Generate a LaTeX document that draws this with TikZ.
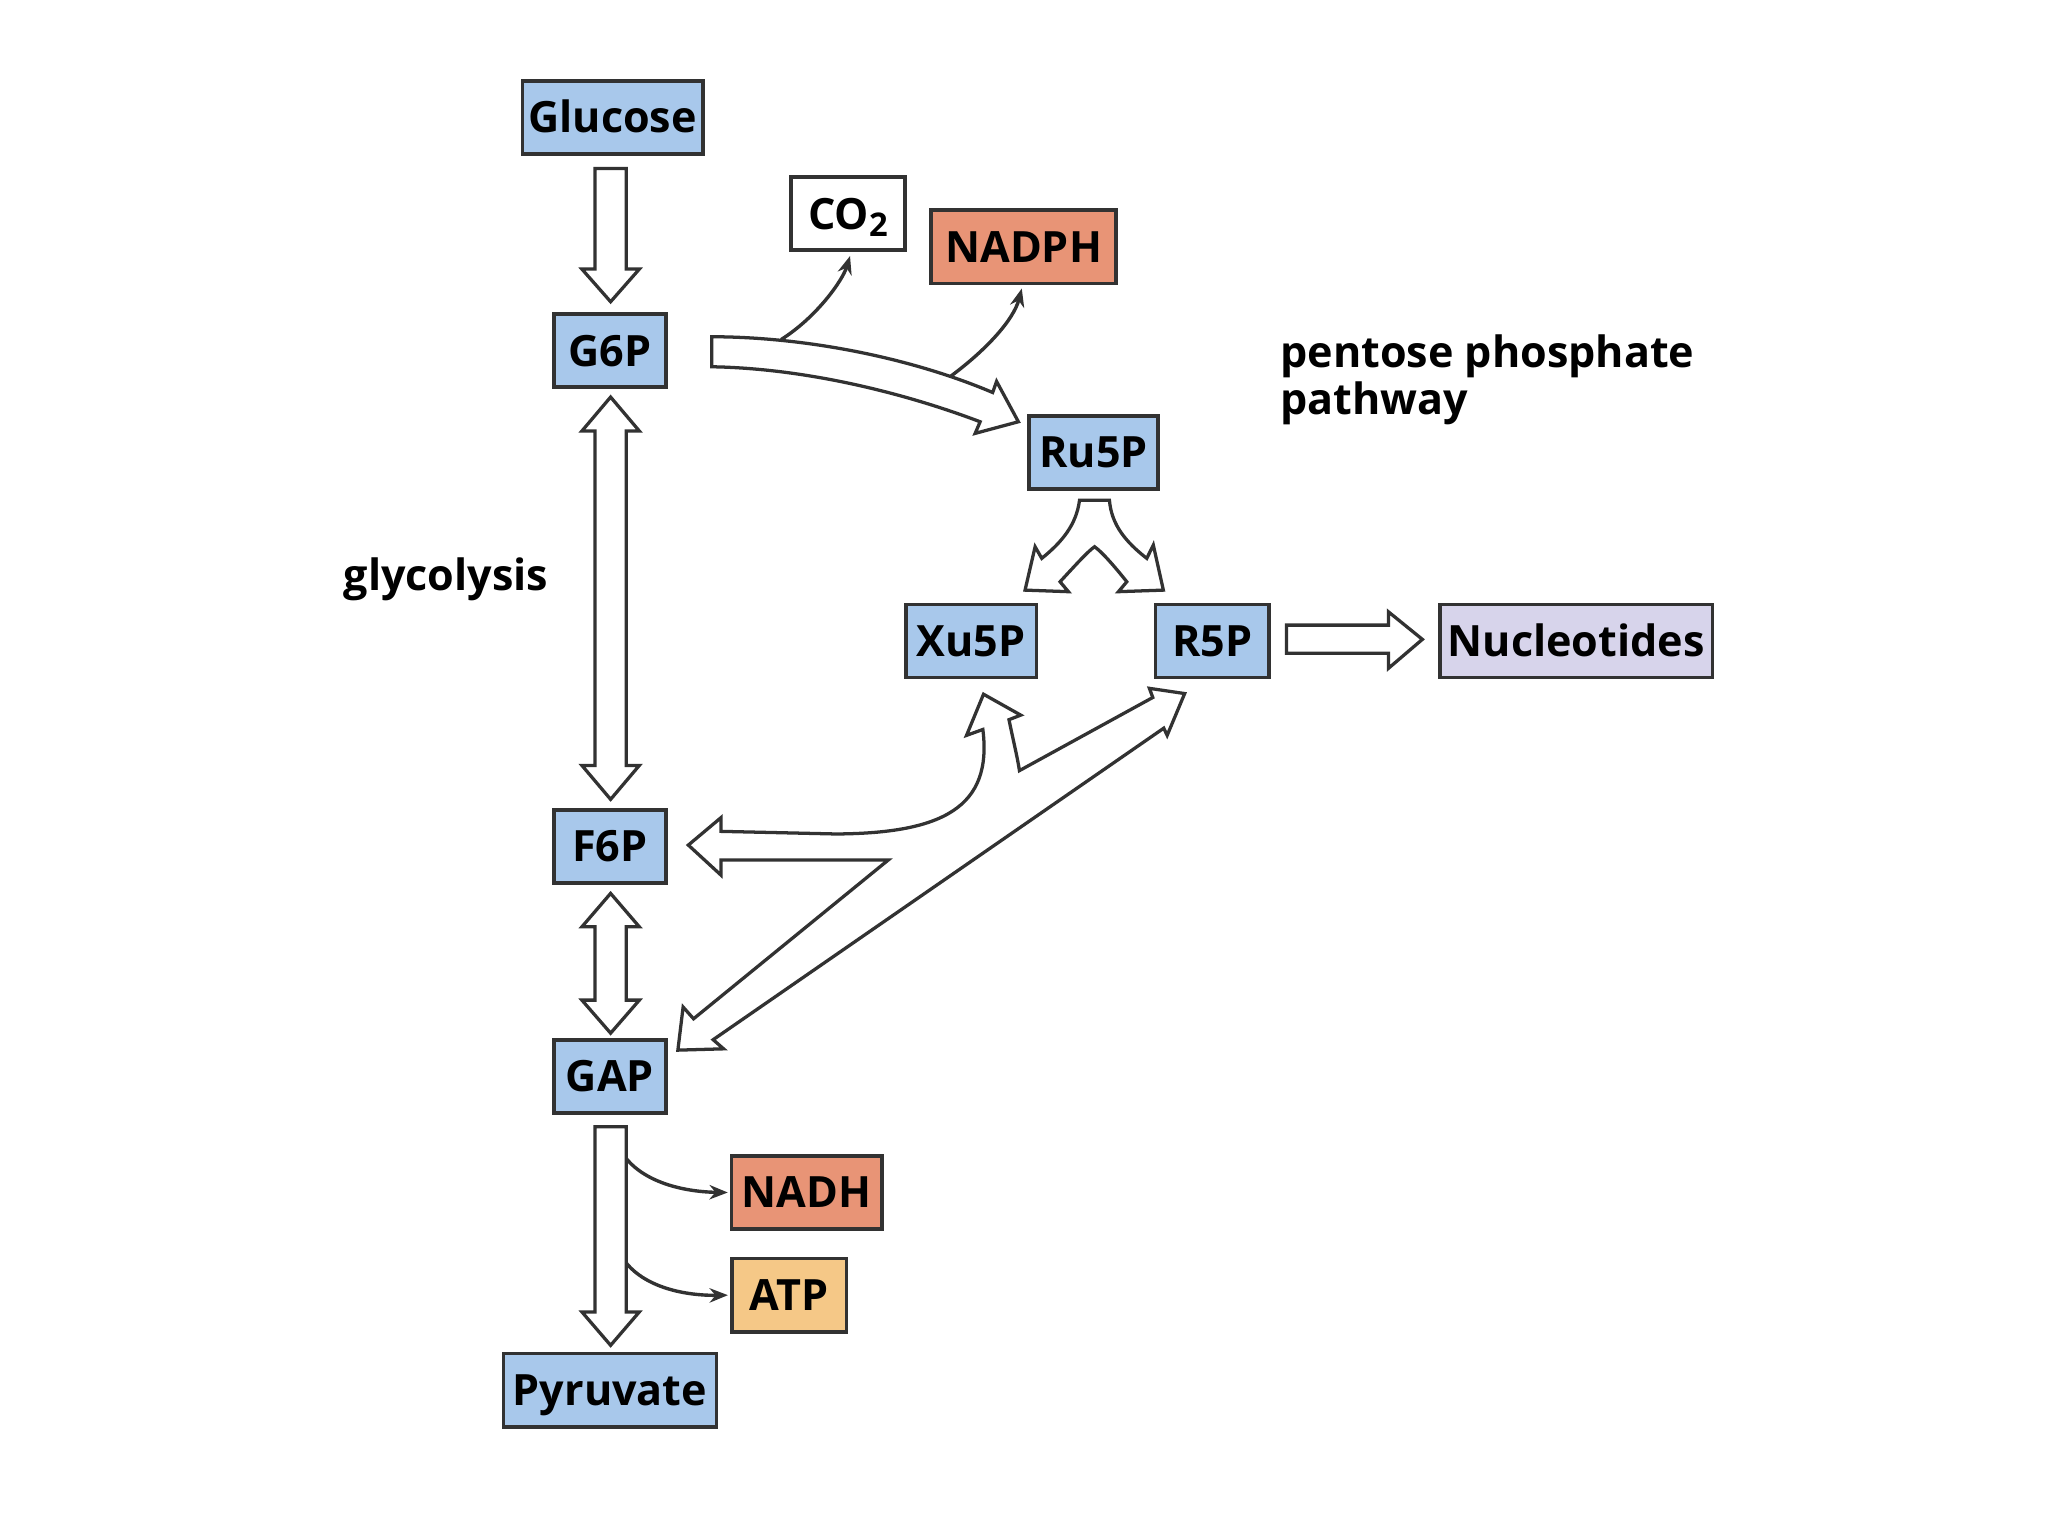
\documentclass[tikz,border=0pt]{standalone}
\usepackage{fontspec}
\setmainfont{Open Sans}
\usetikzlibrary{arrows.meta}
\definecolor{boxblue}{RGB}{168,200,235}
\definecolor{salmonfill}{RGB}{232,148,118}
\definecolor{atpfill}{RGB}{245,200,135}
\definecolor{lavfill}{RGB}{215,212,235}
\definecolor{edgegray}{RGB}{50,50,50}
\begin{document}
\begin{tikzpicture}[x=1pt,y=-1pt,
  box/.style={draw=edgegray, line width=2.8pt, minimum height=56pt, inner sep=0pt,
    text height=23.5pt, text depth=0pt, font=\fontsize{33}{37}\selectfont\bfseries, text=black},
  bluebox/.style={box, fill=boxblue},
  hollow/.style={draw=edgegray, fill=white, line width=2.5pt, line join=miter},
  thinarrow/.style={draw=edgegray, line width=2.6pt, -{Stealth[length=14pt,width=11pt]}},
  lbl/.style={font=\fontsize{33}{36}\selectfont\bfseries, text=black, inner sep=0pt}
]
\useasboundingbox[fill=white] (0,0) rectangle (1568,1176);

% boxes
\node[bluebox, minimum width=138pt] (glucose) at (469,90) {Glucose};
\node[bluebox, minimum width=86pt] (g6p) at (467,268.5) {G6P};
\node[bluebox, minimum width=86pt] (f6p) at (467,648) {F6P};
\node[bluebox, minimum width=86pt] (gap) at (467,824) {GAP};
\node[bluebox, minimum width=163pt] (pyr) at (467,1064.3) {Pyruvate};
\node[box, fill=salmonfill, minimum width=115pt] (nadh) at (617.6,913) {NADH};
\node[box, fill=atpfill, minimum width=88pt] (atp) at (604.2,991.6) {ATP};
\node[box, fill=white, minimum width=87pt] (co2) at (649.3,163.6) {CO{\fontsize{25}{25}\selectfont\raisebox{-6pt}{2}}};
\node[box, fill=salmonfill, minimum width=141.5pt] (nadph) at (783.7,189) {NADPH};
\node[bluebox, minimum width=98.5pt] (ru5p) at (837.3,346.5) {Ru5P};
\node[bluebox, minimum width=100pt] (xu5p) at (743.5,490.7) {Xu5P};
\node[bluebox, minimum width=87pt] (r5p) at (928.2,490.7) {R5P};
\node[box, fill=lavfill, minimum width=208.6pt] (nuc) at (1206.7,490.7) {Nucleotides};

% labels
\node[lbl, anchor=base] (glyc) at (341.5,452) {glycolysis};
\node[lbl, anchor=north west, align=left] (ppp) at (980,256) {pentose phosphate\\pathway};

% glycolysis column hollow arrows
\draw[hollow] (455.5,129) -- (479.5,129) -- (479.5,206) -- (489.5,206) -- (467.5,231)
  -- (445.5,206) -- (455.5,206) -- cycle;
\draw[hollow] (467.5,304) -- (489.5,330) -- (479.5,330) -- (479.5,586) -- (489.5,586)
  -- (467.5,612) -- (445.5,586) -- (455.5,586) -- (455.5,330) -- (445.5,330) -- cycle;
\draw[hollow] (467.5,684) -- (489.5,709.6) -- (479.5,709.6) -- (479.5,765.7) -- (489.5,765.7)
  -- (467.5,791) -- (445.5,765.7) -- (455.5,765.7) -- (455.5,709.6) -- (445.5,709.6) -- cycle;
\draw[hollow] (455.5,862.7) -- (479.5,862.7) -- (479.5,1004.4) -- (489.5,1004.4) -- (467.5,1030)
  -- (445.5,1004.4) -- (455.5,1004.4) -- cycle;

% G6P -> Ru5P curved hollow arrow
\draw[hollow] (545,257.8) .. controls (620,258) and (700,275) .. (760,300.5)
  -- (763,292) -- (779.7,322.9) -- (746.6,331.8) -- (750.4,322.9)
  .. controls (690,300) and (615,282) .. (545,280.8) -- cycle;

% Ru5P fork
\draw[hollow] (826.5,383) -- (849.4,383) .. controls (851,402) and (862,415) .. (878,427.5)
  -- (883,417.3) -- (890.7,451.8) -- (856.3,453) -- (862.7,445.4)
  .. controls (852,432) and (843,422) .. (838,418.6)
  .. controls (833,422) and (824,432) .. (811.6,445.4)
  -- (818,453) -- (784.8,451.8) -- (792.5,418.6) -- (797.6,427.5)
  .. controls (813,415) and (824,402) .. (826.5,383) -- cycle;

% R5P -> Nucleotides
\draw[hollow] (985,478.6) -- (1063,478.6) -- (1063,468.4) -- (1089,489.5) -- (1063,511.7)
  -- (1063,500.2) -- (985,500.2) -- cycle;

% transketolase / transaldolase complex
\draw[hollow] (527,647) -- (552,626) -- (552,636.5) -- (640,638.5)
  .. controls (722,638) and (760,618) .. (752.5,558.5)
  -- (740,563) -- (753,531.5) -- (781.5,547.5) -- (772.5,551)
  .. controls (776,568) and (779,580) .. (780.5,590)
  -- (882.6,534) -- (880,527) -- (907,531) -- (893.6,563) -- (891,557.5)
  -- (546,796) -- (554,803) -- (519,804) -- (523,771) -- (531,780)
  -- (680,658.5) -- (552,658.5) -- (552,670) -- cycle;

% thin arrows
\coordinate (c1) at (598,260);
\coordinate (c2) at (727.4,288.4);
\coordinate (c3) at (479.5,887);
\coordinate (c4) at (479.5,967);
\draw[thinarrow] (c1) .. controls (625,243) and (645,215) .. ([xshift=1.5pt,yshift=-3pt]co2.south);
\draw[thinarrow] (c2) .. controls (755,268) and (776,245) .. ([xshift=-1.4pt,yshift=-2.5pt]nadph.south);
\draw[thinarrow] (c3) .. controls (495,906) and (525,912.5) .. ([xshift=-1.5pt]nadh.west);
\draw[thinarrow] (c4) .. controls (495,986) and (525,992) .. ([xshift=-1.5pt]atp.west);
\end{tikzpicture}
\end{document}
